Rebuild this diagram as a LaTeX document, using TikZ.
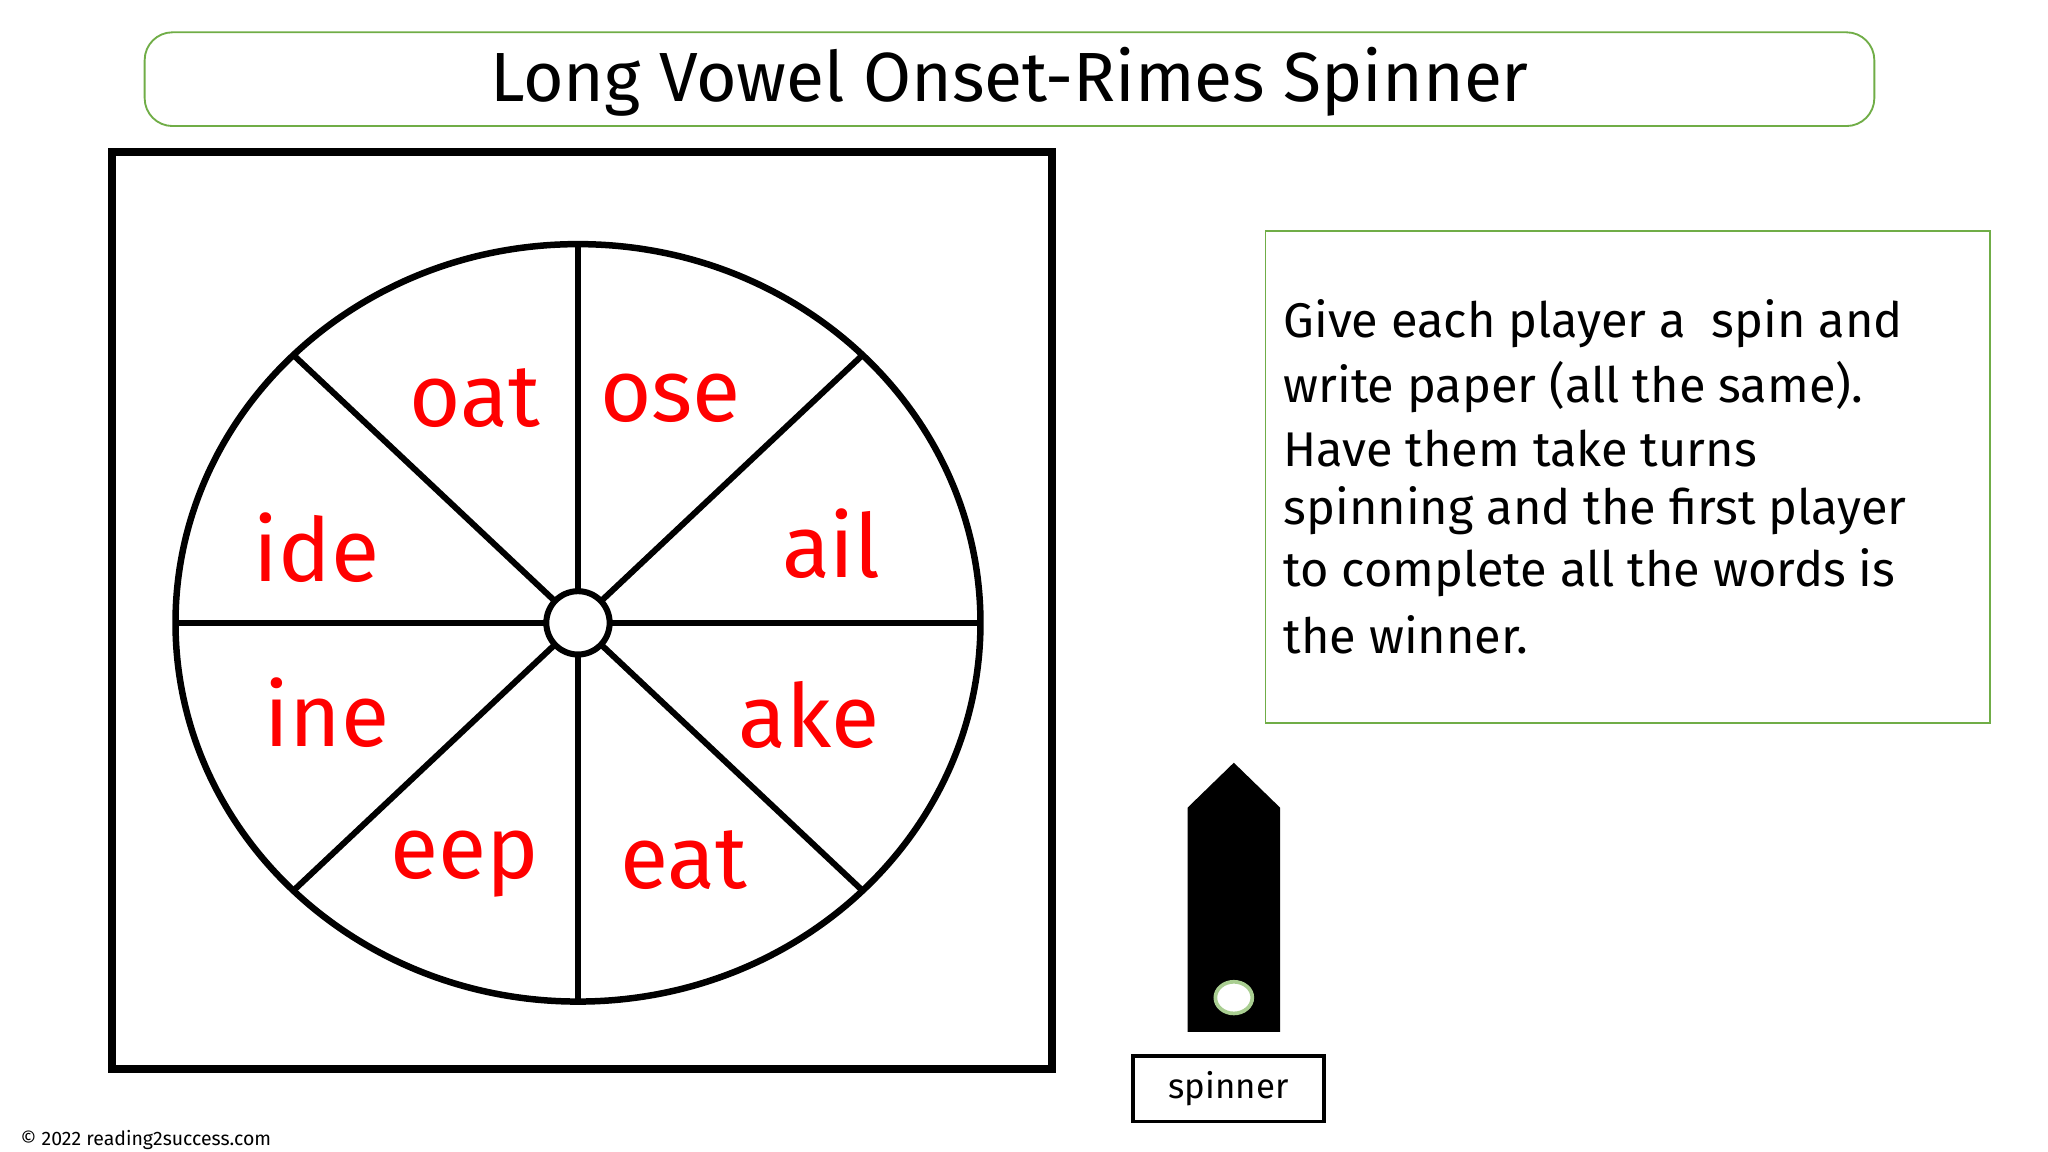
\documentclass[tikz,border=0pt]{standalone}
\usepackage{fontspec}
\setmainfont{Fira Sans}
\begin{document}
\begin{tikzpicture}[x=0.01cm,y=-0.01cm,
  rime/.style={text=red, font=\fontsize{19}{19}\selectfont, inner sep=0pt},
  body/.style={anchor=west, font=\fontsize{10.5}{12}\selectfont, inner sep=0pt}]
\useasboundingbox (0,0) rectangle (1552,873);
\definecolor{gframe}{RGB}{112,173,71}
\node[draw=gframe, rounded corners=6pt, minimum width=13.1cm, minimum height=0.71cm] (title) at (765,60) {};
\node[font=\fontsize{15}{15}\selectfont] (tt) at (765,62) {Long Vowel Onset-Rimes Spinner};
\draw[line width=1.8pt] (85,115) rectangle (797,810);
\coordinate (c) at (438,472);
\draw[line width=1.4pt] (c) ellipse [x radius=305, y radius=287];
\foreach \a in {0,45,...,315}
  \draw[line width=1.3pt] (c) -- ++({305*cos(\a)},{287*sin(\a)});
\draw[line width=1.3pt, fill=white] (c) circle [radius=24];
\node[rime] (oat) at (360,302) {oat};
\node[rime] (ose) at (508,302) {ose};
\node[rime] (ide) at (240,415) {ide};
\node[rime] (ail) at (630,412) {ail};
\node[rime] (ine) at (248,540) {ine};
\node[rime] (ake) at (613,542) {ake};
\node[rime] (eep) at (352,655) {eep};
\node[rime] (eat) at (518,652) {eat};
\draw[draw=gframe] (959,175) rectangle (1508,548);
\node[body] (l1) at (972,245) {Give each player a \ spin and};
\node[body] (l2) at (972,293) {write paper (all the same).};
\node[body] (l3) at (972,340) {Have them take turns};
\node[body] (l4) at (972,387) {spinning and the first player};
\node[body] (l5) at (972,434) {to complete all the words is};
\node[body] (l6) at (972,481) {the winner.};
\fill (900,612) -- (935,578) -- (970,612) -- (970,782) -- (900,782) -- cycle;
\draw[draw=gframe!60, fill=white, line width=0.8pt] (935,756) ellipse [x radius=14, y radius=12];
\node[draw, line width=0.8pt, minimum width=1.45cm, minimum height=0.45cm, font=\fontsize{7.5}{8}\selectfont] (sp) at (931,825) {spinner};
\node[anchor=west, font=\fontsize{4.2}{5}\selectfont, inner sep=0pt] (copy) at (15,864) {© 2022 reading2success.com};
\end{tikzpicture}
\end{document}
